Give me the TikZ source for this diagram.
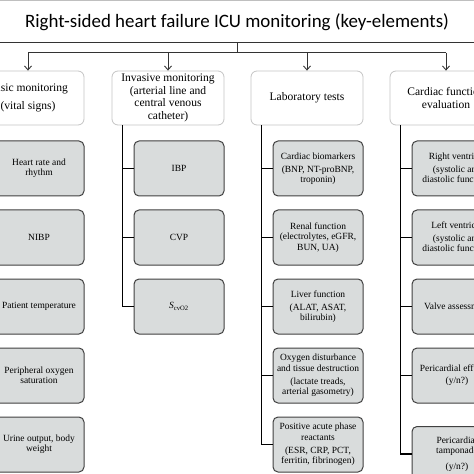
\documentclass[tikz,border=0pt]{standalone}
\usepackage{fontspec}
\setmainfont{Liberation Serif}
\newfontfamily\titlefont{Carlito}
\usetikzlibrary{arrows.meta,positioning}
\definecolor{itemgray}{HTML}{D9DCDC}
\definecolor{edgegray}{HTML}{C4C4C4}
\definecolor{linegray}{HTML}{333333}
\tikzset{
  head_box/.style={rectangle, rounded corners=6bp, draw=edgegray, fill=white, line width=0.8bp,
    minimum width=112bp, minimum height=54bp, align=center, inner sep=1bp,
    font=\fontsize{11.6}{12.5}\selectfont},
  item_box/.style={rectangle, rounded corners=5bp, draw=black!75, fill=itemgray, line width=1bp,
    minimum width=90bp, minimum height=55bp, align=center, inner sep=1bp,
    font=\fontsize{9.5}{10.3}\selectfont},
  bus/.style={draw=linegray, line width=0.9bp},
  stem/.style={draw=black, line width=1.5bp},
}

\begin{document}
\begin{tikzpicture}[x=1bp,y=-1bp]
\clip (0,0) rectangle (474,474);
\fill[black!25] (0,0) rectangle (474,1.5);
\node[font=\titlefont\fontsize{19}{22}\selectfont] (title) at (237,22)
  {Right-sided heart failure ICU monitoring (key-elements)};

% column heads
\node[head_box] (h1) at (28,98)  {Basic monitoring\\[5bp](vital signs)};
\node[head_box] (h2) at (168,98) {Invasive monitoring\\(arterial line and\\central venous\\catheter)};
\node[head_box] (h3) at (307,98) {Laboratory tests};
\node[head_box] (h4) at (446,98) {Cardiac function\\evaluation};

% items
\foreach \txt [count=\k, evaluate={\y=168.5+69*(\k-1);}] in
  {{Heart rate and\\rhythm}, NIBP, Patient temperature,
   {Peripheral oxygen\\saturation}, {Urine output, body\\weight}}
  \node[item_box] (c1-\k) at (39,\y) {\txt};
\foreach \txt [count=\k, evaluate={\y=168.5+69*(\k-1);}] in
  {IBP, CVP, {\textit{S}\textsubscript{cvO2}}}
  \node[item_box] (c2-\k) at (179,\y) {\txt};
\foreach \txt [count=\k, evaluate={\y=168.5+69*(\k-1);}] in
  {{Cardiac biomarkers\\[3bp](BNP, NT-proBNP,\\troponin)},
   {Renal function\\(electrolytes, eGFR,\\BUN, UA)},
   {Liver function\\[3bp](ALAT, ASAT,\\bilirubin)},
   {Oxygen disturbance\\and tissue destruction\\[3bp](lactate treads,\\arterial gasometry)},
   {Positive acute phase\\reactants\\[3bp](ESR, CRP, PCT,\\ferritin, fibrinogen)}}
  \node[item_box] (c3-\k) at (318,\y) {\txt};
\foreach \txt [count=\k, evaluate={\y=\k==5?454:168.5+69*(\k-1);}] in
  {{Right ventricle\\[3bp](systolic and\\diastolic function)},
   {Left ventricle\\[3bp](systolic and\\diastolic function)},
   Valve assessment,
   {Pericardial effusion\\[2bp](y/n?)},
   {Pericardial\\tamponade\\[5bp](y/n?)}}
  \node[item_box] (c4-\k) at (457,\y) {\txt};

% top bus and arrows
\coordinate (busL) at (0,42.5);
\coordinate (busR) at (474,42.5);
\draw[bus] (busL) -- (busR);
\draw[bus] (title.south |- busL) -- ++(0,10.2) coordinate (hub);
\draw[bus] (h1.north |- hub) -- (h4.north |- hub);
\foreach \c in {1,...,4}
  \draw[bus,-{Straight Barb[length=4bp,width=7bp]}] (h\c.north |- hub) -- (h\c.north);

% stems to items
\foreach \c/\n in {2/3,3/5,4/5}{
  \coordinate (s\c) at ([xshift=11bp]h\c.south west);
  \draw[stem] (s\c) |- (c\c-\n.west);
  \foreach \k in {1,...,\n}
    \draw[stem] (s\c |- c\c-\k.west) -- (c\c-\k.west);
}
\end{tikzpicture}
\end{document}
